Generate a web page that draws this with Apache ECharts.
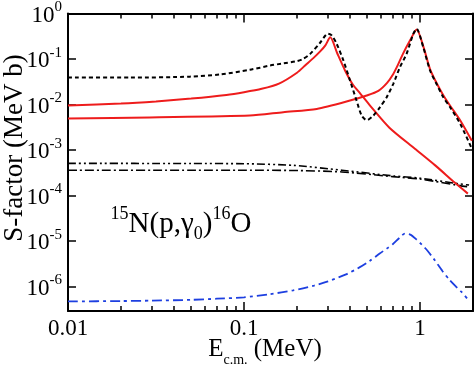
<!DOCTYPE html>
<html><head><meta charset="utf-8">
<script src="https://cdn.jsdelivr.net/npm/echarts@6/dist/echarts.min.js"></script>
<style>html,body{margin:0;padding:0;background:#fff}#c{width:474px;height:367px}</style>
</head><body><div id="c"></div>
<script>
// ---- tick values ----
const xMajorTicks = [0.01, 0.1, 1];
const xMinorTicks = [0.02,0.03,0.04,0.05,0.06,0.07,0.08,0.09,0.2,0.3,0.4,0.5,0.6,0.7,0.8,0.9,2];
const xTickLabels = ['0.01', '0.1', '1'];
const yMajorTicks = [1e-6, 1e-5, 1e-4, 1e-3, 1e-2, 1e-1, 1];

// ---- total S-factor (black dashed) ----
const totalE = [0.01,0.0225,0.0493,0.073,0.108,0.141,0.167,0.20,0.216,0.237,0.27,0.30,0.315,0.336,0.367,0.40,0.436,0.466,0.498,0.543,0.593,0.647,0.705,0.769,0.839,0.916,0.957,1.044,1.14,1.24,1.356,1.48,1.69,1.97];
const totalS = [0.039,0.039,0.041,0.0457,0.058,0.072,0.080,0.090,0.100,0.128,0.225,0.36,0.33,0.216,0.093,0.034,0.0122,0.0057,0.0045,0.0057,0.0088,0.0145,0.0285,0.066,0.13,0.358,0.46,0.18,0.056,0.0285,0.0145,0.0088,0.0038,0.00107];

// ---- resonance 1 (red) ----
const res1E = [0.01,0.02,0.0316,0.0501,0.0794,0.10,0.126,0.158,0.20,0.224,0.251,0.270,0.290,0.309,0.339,0.375,0.415,0.46,0.52,0.67,0.935,1.22,1.58,1.87];
const res1S = [0.0095,0.0105,0.0117,0.0135,0.0162,0.0186,0.0221,0.0288,0.050,0.074,0.110,0.145,0.20,0.30,0.132,0.056,0.0275,0.017,0.0095,0.0031,0.00107,0.00046,0.00019,0.00011];

// ---- resonance 2 (red) ----
const res2E = [0.01,0.0292,0.108,0.167,0.259,0.40,0.498,0.58,0.65,0.705,0.75,0.80,0.877,0.957,1.044,1.14,1.24,1.356,1.48,1.69,1.97];
const res2S = [0.0049,0.0052,0.0057,0.0068,0.0080,0.0122,0.0158,0.020,0.030,0.047,0.075,0.13,0.255,0.445,0.19,0.060,0.030,0.016,0.0095,0.0045,0.0016];

// ---- dash-dot-dot (black) ----
const ddE = [0.01,0.05,0.10,0.19,0.36,0.70,1.0,1.68,1.9];
const ddS = [5.1e-4,5.05e-4,5.0e-4,4.6e-4,3.6e-4,2.7e-4,2.4e-4,1.8e-4,1.7e-4];

// ---- dash-dot (black) ----
const dE = [0.01,0.05,0.10,0.19,0.36,0.70,1.0,1.68,1.9];
const dS = [3.6e-4,3.6e-4,3.6e-4,3.55e-4,3.3e-4,2.6e-4,2.3e-4,1.65e-4,1.55e-4];

// ---- blue dash-dot ----
const blueE = [0.01,0.02,0.03,0.05,0.07,0.10,0.14,0.19,0.25,0.30,0.38,0.45,0.52,0.59,0.65,0.70,0.76,0.82,0.88,0.95,1.02,1.10,1.20,1.34,1.46,1.60,1.72,1.85];
const blueS = [4.7e-7,4.8e-7,4.9e-7,5.1e-7,5.4e-7,5.8e-7,6.8e-7,8.2e-7,1.05e-6,1.3e-6,1.85e-6,2.6e-6,3.7e-6,5.3e-6,6.9e-6,8.5e-6,1.15e-5,1.46e-5,1.38e-5,1.1e-5,8.4e-6,6.2e-6,4.0e-6,2.2e-6,1.45e-6,1.0e-6,7.6e-7,5.5e-7];

function pairs(e, s) { return e.map((v, i) => [v, s[i]]); }

const FONT = 'Liberation Serif';
const X_MIN = 0.01, X_MAX = 2, Y_MIN = 2.9e-7, Y_MAX = 1;

function xAx(pos, ticks, len, showLine, showLabel) {
  return {
    type: 'log', logBase: 10, min: X_MIN, max: X_MAX, position: pos,
    splitLine: { show: false },
    axisLine: { show: showLine, lineStyle: { color: '#000', width: 2 } },
    axisTick: { show: true, inside: true, length: len, customValues: ticks, lineStyle: { color: '#000', width: 1.5 } },
    axisLabel: showLabel ? {
      show: true, customValues: xMajorTicks, margin: 6,
      formatter: v => xTickLabels[xMajorTicks.findIndex(t => Math.abs(Math.log10(t) - Math.log10(v)) < 1e-6)],
      fontFamily: FONT, fontSize: 23, color: '#000'
    } : { show: false }
  };
}
function yAx(pos, showLabel) {
  return {
    type: 'log', logBase: 10, min: Y_MIN, max: Y_MAX, position: pos,
    splitLine: { show: false },
    axisLine: { show: true, lineStyle: { color: '#000', width: 2 } },
    axisTick: { show: true, inside: true, length: 8, customValues: yMajorTicks, lineStyle: { color: '#000', width: 1.5 } },
    axisLabel: showLabel ? {
      show: true, customValues: yMajorTicks, margin: 6,
      formatter: v => '{a|10}{s|' + Math.round(Math.log10(v)) + '}',
      rich: {
        a: { fontFamily: FONT, fontSize: 23, color: '#000', verticalAlign: 'bottom' },
        s: { fontFamily: FONT, fontSize: 15, color: '#000', verticalAlign: 'bottom', padding: [0, 0, 12, 0] }
      }
    } : { show: false }
  };
}

const lineBase = { type: 'line', showSymbol: false, smooth: 0.25 };

const chart = echarts.init(document.getElementById('c'), null, { renderer: 'canvas' });
chart.setOption({
  animation: false,
  backgroundColor: '#fff',
  grid: { left: 68, right: 1, top: 13, bottom: 56, containLabel: false },
  xAxis: [
    xAx('bottom', xMajorTicks, 9, true, true),
    xAx('bottom', xMinorTicks, 5, false, false),
    xAx('top', xMajorTicks, 9, true, false),
    xAx('top', xMinorTicks, 5, false, false)
  ],
  yAxis: [yAx('left', true), yAx('right', false)],
  graphic: [
    { type: 'text', x: 15, y: 148, rotation: Math.PI / 2,
      style: { text: 'S-factor (MeV b)', fontFamily: FONT, fontSize: 27, fill: '#000', align: 'center', verticalAlign: 'middle' } },
    { type: 'text', x: 265, y: 352,
      style: { text: '{a|E}{b|c.m.}{a| (MeV)}', align: 'center', verticalAlign: 'middle',
        rich: {
          a: { fontFamily: FONT, fontSize: 25, fill: '#000', verticalAlign: 'bottom', padding: [0, 0, 5, 0] },
          b: { fontFamily: FONT, fontSize: 14, fill: '#000', verticalAlign: 'bottom' }
        } } },
    { type: 'text', x: 181, y: 224,
      style: { text: '{s|15}{m|N(p,γ}{b|0}{m|)}{s|16}{m|O}', align: 'center', verticalAlign: 'middle',
        rich: {
          m: { fontFamily: FONT, fontSize: 29, fill: '#000', verticalAlign: 'bottom', padding: [0, 0, 4, 0] },
          s: { fontFamily: FONT, fontSize: 18, fill: '#000', verticalAlign: 'bottom', padding: [0, 0, 20, 0] },
          b: { fontFamily: FONT, fontSize: 18, fill: '#000', verticalAlign: 'bottom' }
        } } }
  ],
  series: [
    Object.assign({}, lineBase, { name: 'dd', data: pairs(ddE, ddS),
      lineStyle: { color: '#000', width: 1.6, type: [8, 3, 2, 3, 2, 3] } }),
    Object.assign({}, lineBase, { name: 'd', data: pairs(dE, dS),
      lineStyle: { color: '#000', width: 1.6, type: [9, 3, 2, 3] } }),
    Object.assign({}, lineBase, { name: 'blue', data: pairs(blueE, blueS),
      lineStyle: { color: '#1d3fe0', width: 1.8, type: [10, 4, 3, 4] } }),
    Object.assign({}, lineBase, { name: 'res1', data: pairs(res1E, res1S),
      lineStyle: { color: '#ee1c1c', width: 2 } }),
    Object.assign({}, lineBase, { name: 'res2', data: pairs(res2E, res2S),
      lineStyle: { color: '#ee1c1c', width: 2 } }),
    Object.assign({}, lineBase, { name: 'total', data: pairs(totalE, totalS),
      lineStyle: { color: '#000', width: 2, type: [4, 3] } })
  ]
});
</script>
</body></html>
